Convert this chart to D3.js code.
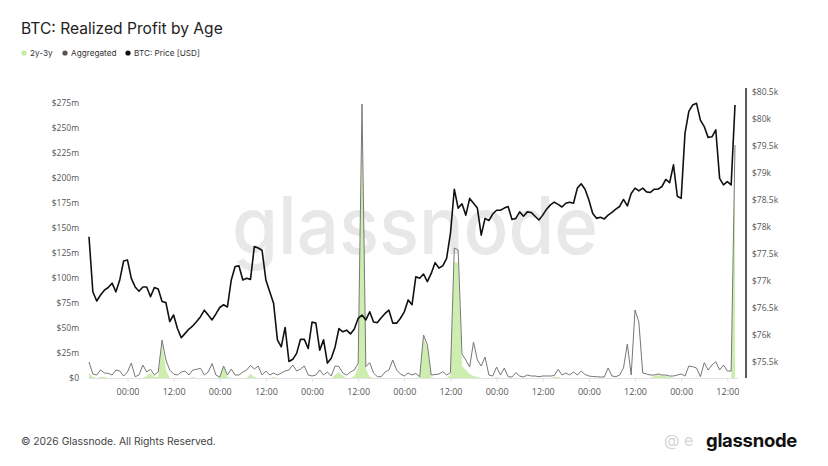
<!DOCTYPE html>
<html>
<head>
<meta charset="utf-8">
<script src="https://cdn.jsdelivr.net/npm/d3@7"></script>
<style>
  body { margin: 0; background: #fff; }
  svg { display: block; font-family: Inter, "Noto Sans", sans-serif; }
</style>
</head>
<body>
<svg id="chart" width="828" height="466"></svg>
<script>
// hourly series, first point 14:00 day 0, last point 14:00 day 7
const startTime = Date.UTC(2026, 3, 1, 14);
const hours = 169;

const btcPrice = [
  77.82, 76.80, 76.63, 76.74, 76.83, 76.88, 76.96, 76.80, 77.02, 77.37,
  77.39, 77.05, 76.89, 76.81, 76.89, 76.89, 76.71, 76.88, 76.85, 76.62,
  76.60, 76.25, 76.37, 76.12, 75.95, 76.03, 76.11, 76.17, 76.25, 76.34,
  76.46, 76.37, 76.28, 76.39, 76.51, 76.56, 76.52, 77.02, 77.27, 77.28,
  77.02, 77.05, 77.03, 77.64, 77.61, 77.57, 77.02, 76.80, 76.59, 75.91,
  75.78, 76.14, 75.51, 75.55, 75.66, 75.92, 75.92, 75.75, 76.24, 76.22,
  75.72, 75.91, 75.48, 75.57, 75.78, 76.12, 76.06, 76.09, 76.02, 76.11,
  76.31, 76.37, 76.28, 76.43, 76.24, 76.23, 76.32, 76.40, 76.46, 76.22,
  76.22, 76.31, 76.43, 76.65, 76.56, 77.08, 77.05, 77.13, 76.99, 77.14,
  77.34, 77.24, 77.28, 77.42, 77.88, 78.70, 78.35, 78.43, 78.22, 78.53,
  78.44, 78.35, 77.85, 78.16, 78.12, 78.24, 78.31, 78.31, 78.35, 78.38,
  78.14, 78.16, 78.28, 78.20, 78.28, 78.27, 78.20, 78.13, 78.22, 78.33,
  78.41, 78.46, 78.42, 78.37, 78.44, 78.46, 78.44, 78.72, 78.80, 78.70,
  78.50, 78.25, 78.16, 78.18, 78.15, 78.22, 78.27, 78.33, 78.38, 78.51,
  78.39, 78.62, 78.72, 78.67, 78.72, 78.65, 78.64, 78.70, 78.70, 78.75,
  78.88, 78.82, 79.15, 78.57, 78.53, 79.74, 80.14, 80.26, 80.29, 79.98,
  79.86, 79.66, 79.67, 79.80, 78.90, 78.78, 78.84, 78.78, 80.26
];

// $m
const aggregated = [
  16, 4, 3, 8, 5, 4.7, 3, 8, 7, 2,
  6, 15, 1.3, 3, 13, 6, 8.7, 3, 6, 38,
  18, 8, 4, 3, 6, 7, 3, 8, 8.7, 9.7,
  3, 6, 14.5, 3, 1, 12, 3, 9, 3, 3,
  6, 8, 12.5, 9, 12, 3, 7, 3, 5, 3,
  5, 7, 8, 13, 7, 9, 12, 3, 2, 3,
  8, 3, 6, 2, 12, 11.5, 5, 3, 6, 8,
  14.7, 274, 11.3, 15.3, 5, 1.3, 1.3, 6, 8, 18,
  8, 4, 2, 5, 3, 4.5, 1.3, 43, 33, 3,
  3.5, 4, 6.3, 3, 5.3, 130, 128, 24, 18, 11,
  36, 18, 12, 21, 3, 2, 11, 3, 10, 1.3,
  1, 5.3, 2, 1, 3, 2, 2, 1.3, 2, 2,
  2, 2.5, 8.7, 3, 5, 3, 6, 3, 7, 3.5,
  2, 1.5, 1.3, 1, 1, 10, 2, 1.3, 3, 10,
  34, 3, 68, 56, 5, 4, 3, 3, 4, 3,
  3, 2, 2, 3, 4, 2, 12, 11.3, 10, 1.3,
  15.3, 8, 13, 16.3, 8, 13, 7, 7, 233
];

// $m
const age2y3y = [
  5, 1, 0, 1, 1, 0, 0, 0, 0, 0,
  0, 0, 0, 0, 0, 2, 5, 1, 1, 35,
  8, 0, 0, 0, 0, 0, 0, 1, 0, 0,
  0, 0, 0, 0, 1, 12, 1, 0, 0, 0,
  0, 0, 4, 1, 0, 0, 0, 0, 1, 0,
  0, 0, 0, 0, 0, 0, 0, 0, 0, 0,
  0, 0, 0, 0, 3, 6, 2, 0, 0, 2,
  10, 255, 9, 1, 0, 0, 0, 0, 0, 0,
  0, 0, 0, 0, 0, 0, 1, 40, 30, 1,
  0, 0, 0, 0, 3, 116, 115, 12, 8, 4,
  2, 1, 0, 0, 0, 0, 1, 0, 0, 0,
  0, 0, 0, 0, 0, 0, 0, 0, 0, 0,
  0, 1, 1, 0, 0, 0, 0, 0, 0, 0,
  0, 0, 0, 0, 0, 0, 0, 0, 0, 0,
  0, 0, 0, 0, 0, 0, 0, 2, 3, 2,
  2, 1, 0, 0, 0, 0, 0, 0, 0, 0,
  0, 0, 0, 0, 0, 0, 0, 0, 220
];

const profitTicks = [0, 25, 50, 75, 100, 125, 150, 175, 200, 225, 250, 275];
const priceTicks = [75.5, 76, 76.5, 77, 77.5, 78, 78.5, 79, 79.5, 80, 80.5];

const times = d3.range(hours).map(i => new Date(startTime + i * 3600e3));
const rows = times.map((t, i) => ({t, price: btcPrice[i], agg: aggregated[i], g: age2y3y[i]}));

const svg = d3.select('#chart');

const x = d3.scaleUtc()
    .domain([times[0], times[hours - 1]])
    .range([89, 735]);
const yProfit = d3.scaleLinear().domain([0, 290]).range([378, 88]);
const yPrice = d3.scaleLinear().domain([75.204, 80.574]).range([378, 88]);

// title + legend
svg.append('text')
    .attr('x', 21).attr('y', 34)
    .attr('font-size', 15.6).attr('fill', '#222')
    .text('BTC: Realized Profit by Age');

const legend = [
  {label: '2y-3y', color: '#c6e9a4', x: 24},
  {label: 'Aggregated', color: '#555', x: 65},
  {label: 'BTC: Price [USD]', color: '#111', x: 128}
];
const lg = svg.append('g').selectAll('g').data(legend).join('g');
lg.append('circle').attr('cx', d => d.x).attr('cy', 53).attr('r', 2.6).attr('fill', d => d.color);
lg.append('text')
    .attr('x', d => d.x + 6).attr('y', 56)
    .attr('font-size', 8.2).attr('fill', '#333')
    .text(d => d.label);

// watermark
svg.append('text')
    .attr('x', 232).attr('y', 254)
    .attr('font-size', 80).attr('font-weight', 500)
    .attr('fill', '#e8e8e8')
    .attr('textLength', 366).attr('lengthAdjust', 'spacingAndGlyphs')
    .text('glassnode');

// x axis
const xAxis = svg.append('g')
    .attr('transform', 'translate(0,378)')
    .call(d3.axisBottom(x)
        .ticks(d3.utcHour.every(12))
        .tickFormat(d3.utcFormat('%H:%M'))
        .tickSize(4).tickPadding(7));
xAxis.select('.domain').attr('stroke', '#e2e2e2').attr('d', 'M89,0.5H738');
xAxis.selectAll('.tick line').attr('stroke', '#e2e2e2');
xAxis.selectAll('.tick text').attr('fill', '#555').attr('font-size', 9)
    .attr('font-family', '"Open Sans", sans-serif');

// left axis
const yl = svg.append('g')
    .attr('transform', 'translate(79,0)')
    .call(d3.axisLeft(yProfit)
        .tickValues(profitTicks)
        .tickFormat(d => d === 0 ? '$0' : '$' + d + 'm')
        .tickSize(0).tickPadding(0));
yl.select('.domain').remove();
yl.selectAll('text').attr('fill', '#555').attr('font-size', 8.5)
    .attr('font-family', '"Open Sans", sans-serif');

// right axis
const yr = svg.append('g')
    .attr('transform', 'translate(746,0)')
    .call(d3.axisRight(yPrice)
        .tickValues(priceTicks)
        .tickFormat(d => '$' + d3.format('~')(d) + 'k')
        .tickSize(0).tickPadding(6));
yr.select('.domain').attr('stroke', '#333').attr('stroke-width', 1.6).attr('d', 'M0,88V378');
yr.selectAll('text').attr('fill', '#555').attr('font-size', 8.5)
    .attr('font-family', '"Open Sans", sans-serif');

// 2y-3y area
svg.append('path')
    .datum(rows)
    .attr('fill', '#cdeeae')
    .attr('d', d3.area().x(d => x(d.t)).y0(yProfit(0)).y1(d => yProfit(d.g)));

// aggregated line
svg.append('path')
    .datum(rows)
    .attr('fill', 'none')
    .attr('stroke', '#777')
    .attr('stroke-width', 1)
    .attr('stroke-linejoin', 'round')
    .attr('d', d3.line().x(d => x(d.t)).y(d => yProfit(d.agg)));

// price line
svg.append('path')
    .datum(rows)
    .attr('fill', 'none')
    .attr('stroke', '#111')
    .attr('stroke-width', 1.6)
    .attr('stroke-linejoin', 'round')
    .attr('d', d3.line().x(d => x(d.t)).y(d => yPrice(d.price)));

// footer
svg.append('text')
    .attr('x', 21).attr('y', 445)
    .attr('font-size', 10.3).attr('fill', '#444')
    .text('© 2026 Glassnode. All Rights Reserved.');
svg.append('text')
    .attr('x', 664).attr('y', 446)
    .attr('font-size', 16).attr('fill', '#d6d6d6')
    .text('@ e');
svg.append('text')
    .attr('x', 706).attr('y', 447)
    .attr('font-size', 18.5).attr('font-weight', 700).attr('fill', '#111')
    .attr('letter-spacing', -0.3)
    .text('glassnode');
</script>
</body>
</html>
